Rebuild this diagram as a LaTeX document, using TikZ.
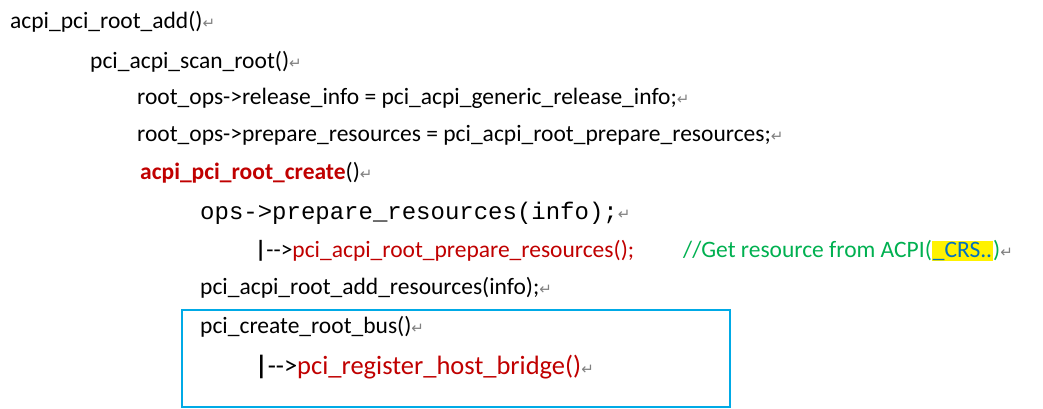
\documentclass[tikz,border=0pt]{standalone}
\usepackage{fontspec}
\setmainfont{Carlito}
\newfontfamily\mono{Liberation Mono}
\newfontfamily\sym{DejaVu Sans}
\definecolor{cred}{RGB}{192,0,0}
\definecolor{cgreen}{RGB}{0,176,80}
\definecolor{cblue}{RGB}{0,112,192}
\definecolor{cbox}{RGB}{0,170,230}
\newcommand{\ret}{{\sym\color{gray}\fontsize{15}{15}\selectfont ↵}}
\begin{document}
\begin{tikzpicture}[x=1pt,y=-1pt,
  ln/.style={anchor=base west,inner sep=0pt,font=\fontsize{23.5}{26}\selectfont}]
\useasboundingbox (0,0) rectangle (1043,409);
\node[ln] (l1) at (10,29) {acpi\_pci\_root\_add()\ret};
\node[ln] (l2) at (90,69) {pci\_acpi\_scan\_root()\ret};
\node[ln] (l3) at (137,105) {root\_ops->release\_info = pci\_acpi\_generic\_release\_info;\ret};
\node[ln] (l4) at (137,141) {root\_ops->prepare\_resources = pci\_acpi\_root\_prepare\_resources;\ret};
\node[ln] (l5) at (140,179) {\textcolor{cred}{\bfseries acpi\_pci\_root\_create}()\ret};
\node[ln,font=\mono\fontsize{24}{26}\selectfont] (l6) at (200,219) {ops->prepare\_resources(info);\ret};
\node[ln] (l7) at (255,257) {\textbf{|}-{}-{}>\textcolor{cred}{pci\_acpi\_root\_prepare\_resources();}};
\node[ln] (c7) at (683,257) {\textcolor{cgreen}{//Get resource from ACPI(}\setlength{\fboxsep}{1pt}\colorbox{yellow}{\textcolor{cblue}{\_CRS..}}\textcolor{cgreen}{)}\ret};
\node[ln] (l8) at (200,294) {pci\_acpi\_root\_add\_resources(info);\ret};
\node[ln] (l9) at (200,333) {pci\_create\_root\_bus()\ret};
\node[ln,font=\fontsize{26.5}{28}\selectfont] (l10) at (255,374) {\textbf{|}-{}-{}>\textcolor{cred}{pci\_register\_host\_bridge()}\ret};
\draw[cbox,line width=1.2pt] (182,310) rectangle (730,407);
\end{tikzpicture}
\end{document}
